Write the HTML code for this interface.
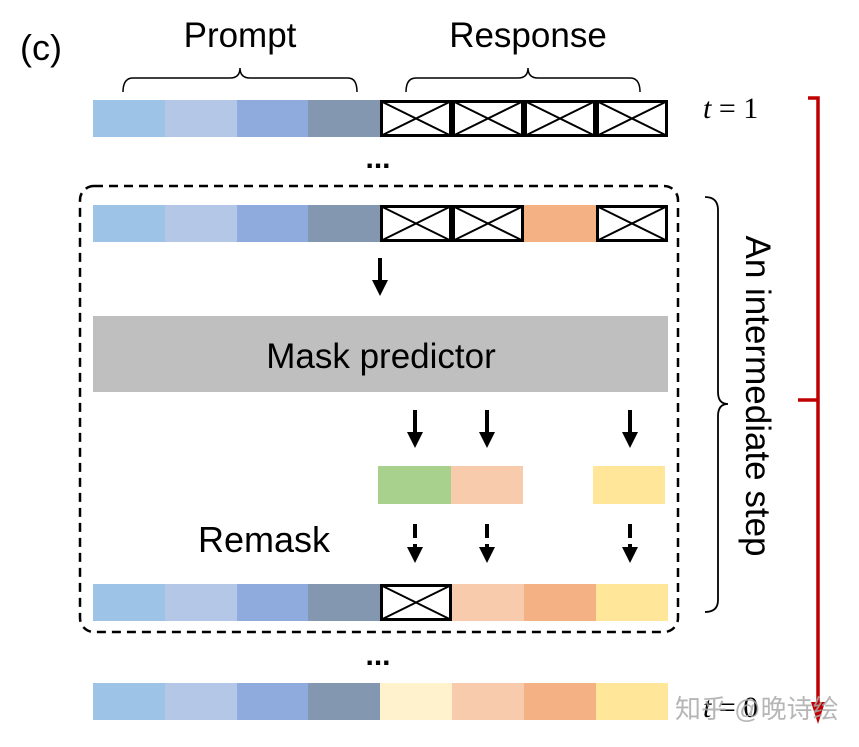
<!DOCTYPE html><html><head><meta charset="utf-8"><style>body{margin:0;background:#fff}</style></head><body>
<svg width="859" height="742" xmlns="http://www.w3.org/2000/svg" font-family="Liberation Sans, sans-serif">
<defs>
<g id="x"><rect x="1.5" y="1.5" width="69" height="34" fill="#fff" stroke="#000" stroke-width="3"/><path d="M1.5 1.5L70.5 35.5M70.5 1.5L1.5 35.5" stroke="#000" stroke-width="2"/></g>
<marker id="ah" markerWidth="4" markerHeight="4" refX="2" refY="2" orient="auto" markerUnits="strokeWidth"><path d="M0,0L4,2L0,4z" fill="#000"/></marker>
</defs>
<text x="20" y="60" font-size="36">(c)</text>
<text x="240" y="47" font-size="35" text-anchor="middle">Prompt</text>
<text x="528" y="47" font-size="35" text-anchor="middle">Response</text>
<path d="M123 92Q123 78 133 78H230Q240 78 240 68Q240 78 250 78H348Q357 78 357 92" fill="none" stroke="#000" stroke-width="1.5"/>
<path d="M406 92Q406 78 416 78H518Q528 78 528 68Q528 78 538 78H630Q640 78 640 92" fill="none" stroke="#000" stroke-width="1.5"/>
<g transform="translate(0,100)">
<rect x="93" width="72" height="37" fill="#9dc3e6"/><rect x="165" width="72" height="37" fill="#b4c7e7"/><rect x="237" width="71" height="37" fill="#8faadc"/><rect x="308" width="72" height="37" fill="#8497b0"/>
<use href="#x" x="380"/><use href="#x" x="452"/><use href="#x" x="524"/><use href="#x" x="596"/>
</g>
<text x="703" y="118" font-size="30" font-family="Liberation Serif, serif"><tspan font-style="italic">t</tspan> = 1</text>
<text x="378" y="168" font-size="30" font-weight="bold" text-anchor="middle">...</text>
<rect x="80" y="186" width="598" height="446" rx="14" fill="none" stroke="#000" stroke-width="2.5" stroke-dasharray="9,6"/>
<g transform="translate(0,205)">
<rect x="93" width="72" height="37" fill="#9dc3e6"/><rect x="165" width="72" height="37" fill="#b4c7e7"/><rect x="237" width="71" height="37" fill="#8faadc"/><rect x="308" width="72" height="37" fill="#8497b0"/>
<use href="#x" x="380"/><use href="#x" x="452"/><rect x="524" width="72" height="37" fill="#f4b183"/><use href="#x" x="596"/>
</g>
<line x1="380" y1="258" x2="380" y2="288" stroke="#000" stroke-width="4" marker-end="url(#ah)"/>
<rect x="93" y="316" width="575" height="76" fill="#bfbfbf"/>
<text x="381" y="368" font-size="35" text-anchor="middle">Mask predictor</text>
<g stroke="#000" stroke-width="4">
<line x1="415" y1="410" x2="415" y2="440" marker-end="url(#ah)"/><line x1="487" y1="410" x2="487" y2="440" marker-end="url(#ah)"/><line x1="630" y1="410" x2="630" y2="440" marker-end="url(#ah)"/>
<line x1="415" y1="524" x2="415" y2="555" stroke-dasharray="14,6" marker-end="url(#ah)"/><line x1="487" y1="524" x2="487" y2="555" stroke-dasharray="14,6" marker-end="url(#ah)"/><line x1="630" y1="524" x2="630" y2="555" stroke-dasharray="14,6" marker-end="url(#ah)"/>
</g>
<rect x="378" y="466" width="73" height="38" fill="#a9d18e"/><rect x="451" y="466" width="72" height="38" fill="#f8cbad"/><rect x="593" y="466" width="72" height="38" fill="#ffe699"/>
<text x="264" y="552" font-size="36" text-anchor="middle">Remask</text>
<g transform="translate(0,584)">
<rect x="93" width="72" height="37" fill="#9dc3e6"/><rect x="165" width="72" height="37" fill="#b4c7e7"/><rect x="237" width="71" height="37" fill="#8faadc"/><rect x="308" width="72" height="37" fill="#8497b0"/>
<use href="#x" x="380"/><rect x="452" width="72" height="37" fill="#f8cbad"/><rect x="524" width="72" height="37" fill="#f4b183"/><rect x="596" width="72" height="37" fill="#ffe699"/>
</g>
<text x="378" y="665" font-size="30" font-weight="bold" text-anchor="middle">...</text>
<g transform="translate(0,683)">
<rect x="93" width="72" height="37" fill="#9dc3e6"/><rect x="165" width="72" height="37" fill="#b4c7e7"/><rect x="237" width="71" height="37" fill="#8faadc"/><rect x="308" width="72" height="37" fill="#8497b0"/>
<rect x="380" width="72" height="37" fill="#fff2cc"/><rect x="452" width="72" height="37" fill="#f8cbad"/><rect x="524" width="72" height="37" fill="#f4b183"/><rect x="596" width="72" height="37" fill="#ffe699"/>
</g>
<path d="M705 197Q718 197 718 210V392Q718 404 728 404Q718 404 718 416V600Q718 612 705 612" fill="none" stroke="#000" stroke-width="1.8"/>
<text transform="translate(746,396) rotate(90)" font-size="35" text-anchor="middle">An intermediate step</text>
<path d="M808 98H818V705" fill="none" stroke="#c00000" stroke-width="3.5"/>
<line x1="798" y1="400" x2="818" y2="400" stroke="#c00000" stroke-width="3.5"/>
<path d="M811 702L825 702L818 724z" fill="#c00000"/>
<text x="703" y="717" font-size="30" font-family="Liberation Serif, serif" fill="#000"><tspan font-style="italic">t</tspan> = 0</text>
<text x="675" y="718" font-size="26" fill="#aaa" font-family="Liberation Sans, Noto Sans CJK SC, sans-serif" opacity="0.85">知乎 @晚诗绘</text>
</svg>
</body></html>
